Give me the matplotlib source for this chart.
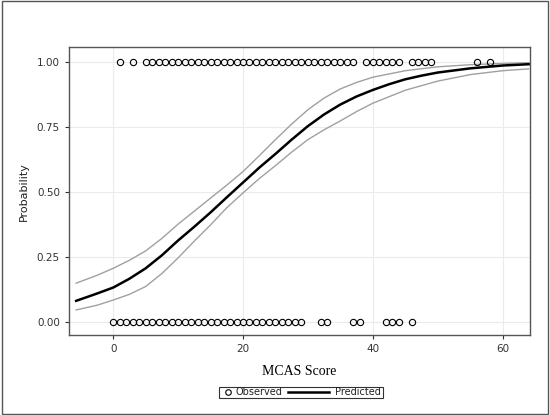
import matplotlib.pyplot as plt
from matplotlib.patches import Rectangle
from matplotlib.lines import Line2D

# observed outcomes (MCAS score, 0/1)
obs_x_pass = [1, 3] + list(range(5, 38)) + list(range(39, 45)) + [46, 47, 48, 49, 56, 58]
obs_x_fail = list(range(0, 30)) + [32, 33, 37, 38, 42, 43, 44, 46]

# predicted probability
pred_x = [-5.7, -2.5, 0, 2.5, 5, 7.5, 10, 12.5, 15, 17.5, 20, 22.5, 25, 27.5,
          30, 32.5, 35, 37.5, 40, 42.5, 45, 47.5, 50, 55, 60, 64]
pred_p = [0.080, 0.108, 0.131, 0.165, 0.205, 0.255, 0.312, 0.365, 0.420, 0.478,
          0.535, 0.592, 0.645, 0.700, 0.752, 0.797, 0.835, 0.866, 0.891, 0.913,
          0.932, 0.946, 0.958, 0.974, 0.985, 0.990]

# confidence limits
band_x = [-5.7, -2.5, 0, 2.5, 5, 7.5, 10, 12.5, 15, 17.5, 20, 22.5, 25, 27.5,
          30, 32.5, 35, 37.5, 40, 45, 50, 55, 60, 64]
upper_p = [0.148, 0.178, 0.205, 0.236, 0.272, 0.320, 0.375, 0.425, 0.475, 0.525,
           0.577, 0.638, 0.700, 0.760, 0.815, 0.860, 0.895, 0.920, 0.940, 0.965,
           0.980, 0.988, 0.993, 0.996]
lower_p = [0.045, 0.063, 0.083, 0.105, 0.135, 0.185, 0.245, 0.310, 0.372, 0.438,
           0.495, 0.550, 0.600, 0.652, 0.700, 0.738, 0.772, 0.808, 0.840, 0.890,
           0.925, 0.950, 0.965, 0.972]

x_ticks = [0, 20, 40, 60]
y_ticks = [0.00, 0.25, 0.50, 0.75, 1.00]


def draw_legend(fig):
    # SAS-style legend box under the axis: short marker handle, long line handle
    y = 0.0547
    fig.patches.append(Rectangle((0.398, 0.041), 0.298, 0.0272, transform=fig.transFigure,
                                 fill=False, edgecolor='#333333', linewidth=0.8))
    fig.add_artist(Line2D([0.414], [y], marker='o', mfc='none', mec='black', ms=4.0,
                          mew=0.8, transform=fig.transFigure))
    fig.text(0.429, y, 'Observed', fontsize=7, va='center', color='#222222')
    fig.add_artist(Line2D([0.524, 0.598], [y, y], color='black', lw=1.8,
                          transform=fig.transFigure))
    fig.text(0.609, y, 'Predicted', fontsize=7, va='center', color='#222222')


def main():
    fig = plt.figure(figsize=(5.5, 4.15), dpi=100)
    fig.patches.append(Rectangle((0.003, 0.003), 0.994, 0.994, transform=fig.transFigure,
                                 fill=False, edgecolor='#555555', linewidth=1.0))
    ax = fig.add_axes([0.1255, 0.193, 0.838, 0.693])

    ax.plot(band_x, upper_p, color='#a0a0a0', lw=1.0, zorder=2)
    ax.plot(band_x, lower_p, color='#a0a0a0', lw=1.0, zorder=2)
    ax.plot(pred_x, pred_p, color='black', lw=1.8, zorder=3)
    ax.plot(obs_x_pass, [1] * len(obs_x_pass), 'o', mfc='none', mec='black', ms=4.5,
            mew=0.8, zorder=4)
    ax.plot(obs_x_fail, [0] * len(obs_x_fail), 'o', mfc='none', mec='black', ms=4.5,
            mew=0.8, zorder=4)

    ax.set_xlim(-6.8, 64.2)
    ax.set_ylim(-0.051, 1.055)
    ax.set_xticks(x_ticks)
    ax.set_yticks(y_ticks)
    ax.set_yticklabels(['{:.2f}'.format(v) for v in y_ticks])
    ax.grid(color='#ebebeb', lw=0.8)
    ax.set_axisbelow(True)
    for s in ax.spines.values():
        s.set_color('#555555')
        s.set_linewidth(1.0)
    ax.tick_params(labelsize=7.5, colors='#333333', length=3, width=0.8)

    ax.set_ylabel('Probability', fontsize=8, color='#222222', labelpad=6)
    ax.set_xlabel('MCAS Score', fontsize=10, family='Liberation Serif', labelpad=8)

    draw_legend(fig)

    fig.savefig('out.png', dpi=100)


if __name__ == '__main__':
    main()
